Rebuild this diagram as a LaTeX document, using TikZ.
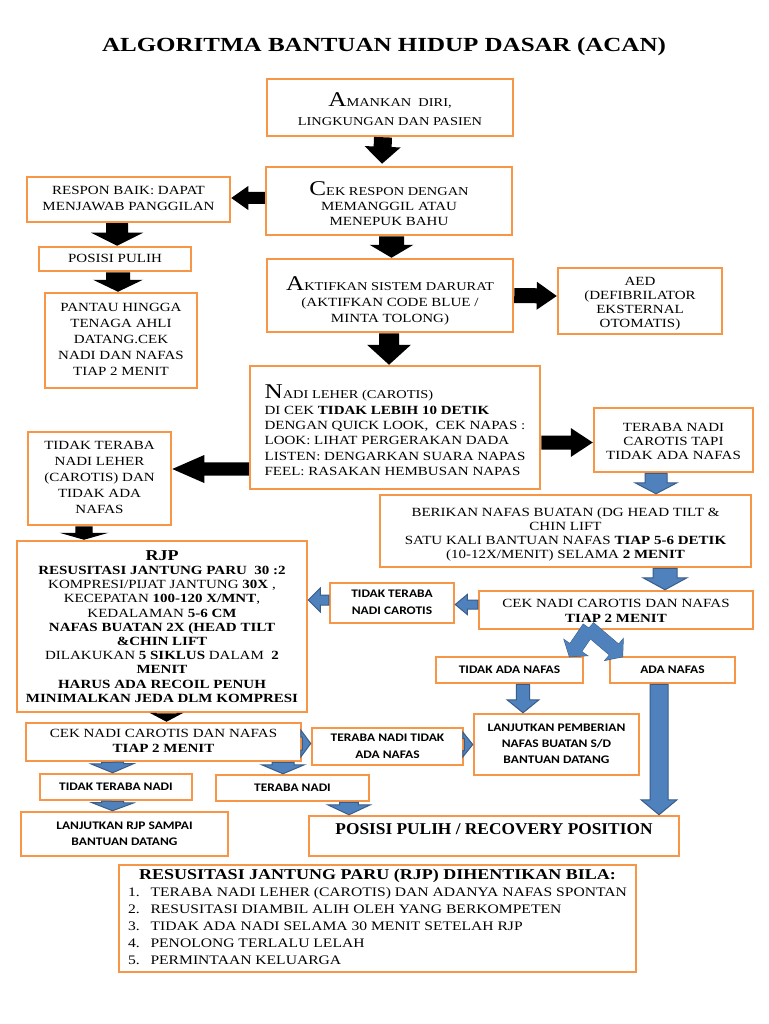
\documentclass[tikz,border=0pt]{standalone}
\usepackage{fontspec}
\usepackage{graphicx}
\setmainfont{Liberation Serif}
\newfontfamily\sansf{Carlito}
\usetikzlibrary{calc}
\definecolor{org}{HTML}{F79646}
\definecolor{bfill}{HTML}{4F81BD}
\definecolor{bline}{HTML}{385D8A}
\newcommand\ml[3]{\scalebox{#1}[1]{\begin{tabular}{@{}#2@{}}#3\end{tabular}}}
\newcommand\dn[2]{\raisebox{-#1}[\height][\depth]{#2}}
\newcommand\bigL[1]{{\fontsize{21}{21}\selectfont #1}}
\newcommand\smc[1]{{\fontsize{12}{12}\selectfont #1}}
\newcommand\bx[7]{\node[box,#2,minimum width={#5-#3},minimum height={#6-#4}] (#1) at ({(#3+#5)/2},{(#4+#6)/2}) {#7};}
\newcommand\barr[6]{%
 \coordinate (bA) at (#2); \coordinate (bB) at (#3);
 \coordinate (bH) at ($(bB)!#6!(bA)$);
 \path[#1] ($(bA)!#4!90:(bB)$) -- ($(bH)!#4!90:(bB)$) -- ($(bH)!#5!90:(bB)$) -- (bB) -- ($(bH)!#5!-90:(bB)$) -- ($(bH)!#4!-90:(bB)$) -- ($(bA)!#4!-90:(bB)$) -- cycle;}
\tikzset{
 box/.style={draw=org,line width=2.5pt,fill=white,inner sep=0pt},
 sr/.style={font=\fontsize{12.5}{#1}\selectfont},
 ss/.style={font=\sansf\bfseries\fontsize{11.6}{#1}\selectfont},
 blk/.style={fill=black},
 blu/.style={fill=bfill,draw=bline,line width=1pt},
}
\begin{document}
\begin{tikzpicture}[x=1pt,y=-1pt]
\useasboundingbox (0,0) rectangle (768,1024);
\fill[white] (0,0) rectangle (768,1024);
\node (title) at (384,47) {\fontsize{20}{24}\selectfont\bfseries\scalebox{1.25}[1]{ALGORITMA BANTUAN HIDUP DASAR (ACAN)}};

\bx{aman}{sr=19}{267}{79}{513}{136}{\dn{4pt}{\ml{1.2}{c}{\bigL{A}\smc{MANKAN\ \ DIRI,}\\\smc{LINGKUNGAN DAN PASIEN}}}}
\bx{cek}{sr=15}{266}{167}{512}{235}{\dn{5pt}{\ml{1.2}{c}{\bigL{C}\smc{EK RESPON DENGAN}\\MEMANGGIL ATAU\\MENEPUK BAHU}}}
\bx{respon}{sr=16}{27}{177}{230}{222}{\ml{1.2}{c}{RESPON BAIK: DAPAT\\MENJAWAB PANGGILAN}}
\bx{posisi}{sr=16}{39}{247}{191}{271}{\ml{1.2}{c}{POSISI PULIH}}
\bx{pantau}{sr=16}{45}{293}{197}{388}{\ml{1.2}{c}{PANTAU HINGGA\\TENAGA AHLI\\DATANG.CEK\\NADI DAN NAFAS\\TIAP 2 MENIT}}
\bx{aktif}{sr=16}{267}{259}{513}{332}{\dn{6pt}{\ml{1.2}{c}{\bigL{A}\smc{KTIFKAN SISTEM DARURAT}\\(AKTIFKAN CODE BLUE /\\MINTA TOLONG)}}}
\bx{aed}{sr=14}{558}{268}{722}{334}{\dn{3pt}{\ml{1.2}{c}{AED\\(DEFIBRILATOR\\EKSTERNAL\\OTOMATIS)}}}
\bx{nadi}{sr=15.3}{250}{366}{540}{489}{\dn{5pt}{\ml{1.2}{l}{\bigL{N}\smc{ADI LEHER (CAROTIS)}\\DI CEK \textbf{TIDAK LEBIH 10 DETIK}\\DENGAN QUICK LOOK,\ \ CEK NAPAS :\\LOOK: LIHAT PERGERAKAN DADA\\LISTEN: DENGARKAN SUARA NAPAS\\FEEL: RASAKAN HEMBUSAN NAPAS}}}
\bx{tidak}{sr=16}{28}{432}{171}{525}{\ml{1.2}{c}{TIDAK TERABA\\NADI LEHER\\(CAROTIS) DAN\\TIDAK ADA\\NAFAS}}
\bx{teraba}{sr=14}{594}{408}{753}{472}{\dn{3pt}{\ml{1.2}{c}{TERABA NADI\\CAROTIS TAPI\\TIDAK ADA NAFAS}}}
\bx{berikan}{sr=14}{380}{495}{751}{567}{\dn{4pt}{\ml{1.2}{c}{BERIKAN NAFAS BUATAN (DG HEAD TILT \&\\CHIN LIFT\\SATU KALI BANTUAN NAFAS \textbf{TIAP 5-6 DETIK}\\(10-12X/MENIT) SELAMA \textbf{2 MENIT}}}}
\bx{rjp}{sr=14.2}{17}{541}{307}{712}{\dn{2pt}{\ml{1.2}{c}{{\fontsize{15}{15}\selectfont\bfseries RJP}\\\textbf{RESUSITASI JANTUNG PARU\ \ 30 :2}\\KOMPRESI/PIJAT JANTUNG \textbf{30X} ,\\KECEPATAN \textbf{100-120 X/MNT},\\KEDALAMAN \textbf{5-6 CM}\\\textbf{NAFAS BUATAN 2X (HEAD TILT}\\\textbf{\&CHIN LIFT}\\DILAKUKAN \textbf{5 SIKLUS} DALAM\ \ \textbf{2}\\\textbf{MENIT}\\\textbf{HARUS ADA RECOIL PENUH}\\\textbf{MINIMALKAN JEDA DLM KOMPRESI}}}}
\bx{tcar}{ss=16.7}{330}{583}{454}{623}{\ml{1.16}{c}{TIDAK TERABA\\NADI CAROTIS}}
\bx{cekR}{sr=15}{479}{591}{753}{629}{\dn{2pt}{\ml{1.2}{c}{CEK NADI CAROTIS DAN NAFAS\\\textbf{TIAP 2 MENIT}}}}
\bx{tan}{ss=16}{436}{657}{583}{683}{\ml{1.16}{c}{TIDAK ADA NAFAS}}
\bx{ada}{ss=16}{610}{657}{735}{683}{\ml{1.16}{c}{ADA NAFAS}}
\bx{lanj1}{ss=15.7}{474}{714}{639}{775}{\ml{1.16}{c}{LANJUTKAN PEMBERIAN\\NAFAS BUATAN S/D\\BANTUAN DATANG}}
\bx{cekL}{sr=14.7}{26}{723}{301}{761}{\ml{1.2}{c}{CEK NADI CAROTIS DAN NAFAS\\\textbf{TIAP 2 MENIT}}}
\bx{tntan}{ss=17}{312}{728}{463}{765}{\ml{1.16}{c}{TERABA NADI TIDAK\\ADA NAFAS}}
\bx{ttn}{ss=16}{40}{774}{192}{800}{\ml{1.16}{c}{TIDAK TERABA NADI}}
\bx{tn}{ss=16}{216}{775}{369}{801}{\ml{1.16}{c}{TERABA NADI}}
\bx{lanjR}{ss=16.7}{21}{812}{228}{856}{\ml{1.16}{c}{LANJUTKAN RJP SAMPAI\\BANTUAN DATANG}}
\bx{rec}{sr=16}{309}{816}{679}{856}{\raisebox{1.5pt}[0pt][0pt]{\fontsize{16.5}{18}\selectfont\bfseries\scalebox{1.05}[1]{POSISI PULIH / RECOVERY POSITION}}}
\bx{stop}{font=\fontsize{13}{17}\selectfont}{119}{865}{636}{972}{\ml{1.2}{l@{\hspace{9pt}}l}{\multicolumn{2}{c}{\fontsize{15}{17}\selectfont\bfseries RESUSITASI JANTUNG PARU (RJP) DIHENTIKAN BILA:}\\1.&TERABA NADI LEHER (CAROTIS) DAN ADANYA NAFAS SPONTAN\\2.&RESUSITASI DIAMBIL ALIH OLEH YANG BERKOMPETEN\\3.&TIDAK ADA NADI SELAMA 30 MENIT SETELAH RJP\\4.&PENOLONG TERLALU LELAH\\5.&PERMINTAAN KELUARGA}}

% black arrows
\barr{blk}{[xshift=-7pt]aman.south}{[xshift=-7pt,yshift=2pt]cek.north}{9pt}{18pt}{17pt}
\barr{blk}{[yshift=3pt]cek.west}{[yshift=1.5pt]respon.east}{6pt}{12pt}{17pt}
\barr{blk}{[xshift=-11.5pt]respon.south}{[xshift=2pt]posisi.north}{11pt}{26pt}{13pt}
\barr{blk}{[xshift=3pt]posisi.south}{[xshift=-3pt]pantau.north}{12pt}{25pt}{12pt}
\barr{blk}{[xshift=2.5pt]cek.south}{[xshift=1.5pt]aktif.north}{12.5pt}{22pt}{13pt}
\barr{blk}{aktif.east}{[yshift=5pt]aed.west}{7.5pt}{14pt}{20pt}
\barr{blk}{[xshift=-1pt]aktif.south}{[xshift=-6pt]nadi.north}{10pt}{22pt}{20pt}
\barr{blk}{[yshift=-41.5pt]nadi.west}{[yshift=9.5pt]tidak.east}{6.7pt}{14pt}{32pt}
\barr{blk}{[yshift=-15pt]nadi.east}{[yshift=-2.5pt]teraba.west}{7pt}{14.5pt}{22pt}
\barr{blk}{[xshift=-15.5pt]tidak.south}{[xshift=-78pt]rjp.north}{8.7pt}{24.5pt}{7pt}
\barr{blk}{[xshift=4.5pt]rjp.south}{[xshift=3pt]cekL.north}{10pt}{17pt}{9pt}

% blue arrows
\barr{blu}{[xshift=-17.5pt]teraba.south}{[xshift=90.5pt]berikan.north}{11pt}{21pt}{11pt}
\barr{blu}{[xshift=99.5pt]berikan.south}{[xshift=49pt]cekR.north}{12pt}{22pt}{12pt}
\barr{blu}{[yshift=5.5pt]cekR.west}{[yshift=-1.5pt]tcar.east}{4.5pt}{10pt}{12pt}
\barr{blu}{[yshift=3pt]tcar.west}{[yshift=26.5pt]rjp.east}{5pt}{12pt}{12pt}
\coordinate (apx) at ([xshift=-27pt,yshift=2pt]cekR.south);
\coordinate (tipL) at ([xshift=60pt,yshift=-1pt]tan.north);
\coordinate (tipR) at ([xshift=-50pt,yshift=-1pt]ada.north);
\barr{blu}{apx}{tipL}{7pt}{14pt}{11pt}
\barr{blu}{apx}{tipR}{7pt}{14pt}{11pt}
\barr{fill=bfill}{apx}{tipL}{7pt}{14pt}{11pt}
\barr{fill=bfill}{apx}{tipR}{7pt}{14pt}{11pt}
\barr{blu}{[xshift=13.5pt]tan.south}{[xshift=-33.5pt]lanj1.north}{6.7pt}{16pt}{13pt}
\barr{blu}{[xshift=-13.5pt]ada.south}{[xshift=165pt]rec.north}{9pt}{18pt}{15pt}
\barr{blu}{[yshift=-1.5pt]cekL.east}{[yshift=3pt]tntan.west}{6.5pt}{13.5pt}{10pt}
\barr{blu}{[yshift=2pt]tntan.east}{lanj1.west}{6pt}{12.5pt}{10pt}
\barr{blu}{[xshift=-51pt]cekL.south}{[xshift=-3.4pt]ttn.north}{11pt}{21.4pt}{9pt}
\barr{blu}{[xshift=119.5pt]cekL.south}{[xshift=-9.5pt]tn.north}{11pt}{21.4pt}{9pt}
\barr{blu}{[xshift=-3.4pt]ttn.south}{[xshift=-12pt]lanjR.north}{11pt}{21pt}{8pt}
\barr{blu}{[xshift=56.5pt]tn.south}{[xshift=-145pt]rec.north}{9.3pt}{21.4pt}{10pt}
\end{tikzpicture}
\end{document}
